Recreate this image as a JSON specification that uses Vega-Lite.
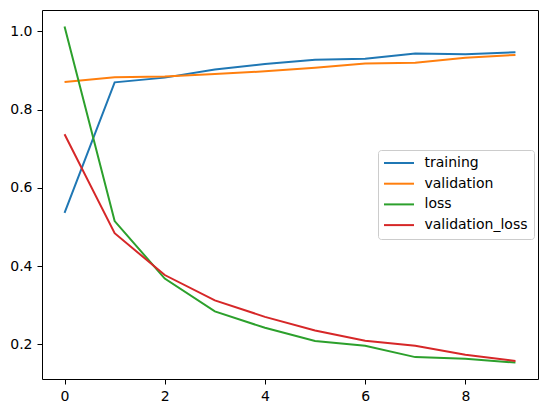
{
  "$schema": "https://vega.github.io/schema/vega-lite/v6.json",
  "width": 496,
  "height": 369,
  "autosize": "none",
  "padding": {"left": 42, "top": 10, "right": 9, "bottom": 34},
  "background": "white",
  "config": {
    "font": "DejaVu Sans",
    "view": {"stroke": "black", "strokeWidth": 1},
    "axis": {
      "grid": false,
      "domain": false,
      "tickColor": "black",
      "tickSize": 5,
      "labelPadding": 5,
      "labelColor": "black",
      "labelFontSize": 14,
      "labelFont": "DejaVu Sans",
      "title": null
    }
  },
  "data": {
    "values": [
      {"epoch": 0, "series": "training", "value": 0.536},
      {"epoch": 1, "series": "training", "value": 0.870},
      {"epoch": 2, "series": "training", "value": 0.882},
      {"epoch": 3, "series": "training", "value": 0.903},
      {"epoch": 4, "series": "training", "value": 0.917},
      {"epoch": 5, "series": "training", "value": 0.928},
      {"epoch": 6, "series": "training", "value": 0.930},
      {"epoch": 7, "series": "training", "value": 0.944},
      {"epoch": 8, "series": "training", "value": 0.942},
      {"epoch": 9, "series": "training", "value": 0.947},
      {"epoch": 0, "series": "validation", "value": 0.871},
      {"epoch": 1, "series": "validation", "value": 0.883},
      {"epoch": 2, "series": "validation", "value": 0.885},
      {"epoch": 3, "series": "validation", "value": 0.891},
      {"epoch": 4, "series": "validation", "value": 0.898},
      {"epoch": 5, "series": "validation", "value": 0.907},
      {"epoch": 6, "series": "validation", "value": 0.918},
      {"epoch": 7, "series": "validation", "value": 0.920},
      {"epoch": 8, "series": "validation", "value": 0.933},
      {"epoch": 9, "series": "validation", "value": 0.940},
      {"epoch": 0, "series": "loss", "value": 1.013},
      {"epoch": 1, "series": "loss", "value": 0.515},
      {"epoch": 2, "series": "loss", "value": 0.368},
      {"epoch": 3, "series": "loss", "value": 0.284},
      {"epoch": 4, "series": "loss", "value": 0.242},
      {"epoch": 5, "series": "loss", "value": 0.208},
      {"epoch": 6, "series": "loss", "value": 0.196},
      {"epoch": 7, "series": "loss", "value": 0.167},
      {"epoch": 8, "series": "loss", "value": 0.163},
      {"epoch": 9, "series": "loss", "value": 0.153},
      {"epoch": 0, "series": "validation_loss", "value": 0.737},
      {"epoch": 1, "series": "validation_loss", "value": 0.484},
      {"epoch": 2, "series": "validation_loss", "value": 0.377},
      {"epoch": 3, "series": "validation_loss", "value": 0.312},
      {"epoch": 4, "series": "validation_loss", "value": 0.270},
      {"epoch": 5, "series": "validation_loss", "value": 0.235},
      {"epoch": 6, "series": "validation_loss", "value": 0.209},
      {"epoch": 7, "series": "validation_loss", "value": 0.196},
      {"epoch": 8, "series": "validation_loss", "value": 0.173},
      {"epoch": 9, "series": "validation_loss", "value": 0.157}
    ]
  },
  "mark": {"type": "line", "strokeWidth": 2},
  "encoding": {
    "x": {
      "field": "epoch",
      "type": "quantitative",
      "scale": {"domain": [-0.45, 9.45], "nice": false, "zero": false},
      "axis": {"values": [0, 2, 4, 6, 8], "format": "d"}
    },
    "y": {
      "field": "value",
      "type": "quantitative",
      "scale": {"domain": [0.111, 1.055], "nice": false, "zero": false},
      "axis": {"values": [0.2, 0.4, 0.6, 0.8, 1.0], "format": ".1f"}
    },
    "color": {
      "field": "series",
      "type": "nominal",
      "scale": {
        "domain": ["training", "validation", "loss", "validation_loss"],
        "range": ["#1f77b4", "#ff7f0e", "#2ca02c", "#d62728"]
      },
      "legend": {
        "title": null,
        "orient": "none",
        "legendX": 336,
        "legendY": 140,
        "symbolType": "M-2.5,0H2.5",
        "symbolSize": 144,
        "symbolOffset": 8,
        "symbolStrokeWidth": 2,
        "labelFontSize": 14,
        "labelColor": "black",
        "labelOffset": 18.5,
        "rowPadding": 6.7,
        "padding": 6,
        "strokeColor": "#cccccc",
        "fillColor": "white",
        "cornerRadius": 3
      }
    }
  }
}
